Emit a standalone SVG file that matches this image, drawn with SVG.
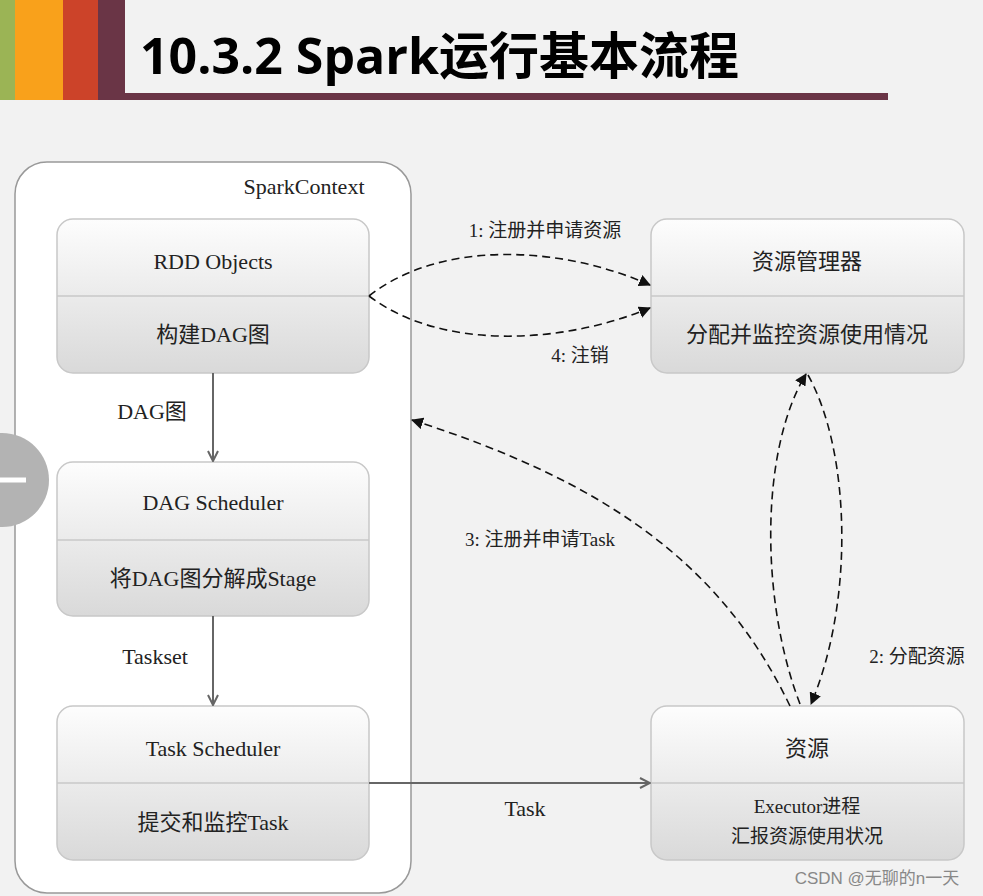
<svg xmlns="http://www.w3.org/2000/svg" width="983" height="896" viewBox="0 0 983 896">
<style>
.t{font-family:"Liberation Serif","Noto Sans CJK SC",serif;font-size:22px;fill:#222;text-anchor:middle}
.s{font-size:19px}
.box{fill:url(#g);stroke:#c8c8c8;stroke-width:1.5}
.div{stroke:#c8c8c8;stroke-width:1.5}
.ln{fill:none;stroke:#666;stroke-width:2}
.da{fill:none;stroke:#111;stroke-width:1.6;stroke-dasharray:8 5}
</style>
<defs>
<linearGradient id="g" x1="0" y1="0" x2="0" y2="1"><stop offset="0" stop-color="#fdfdfd"/><stop offset="1" stop-color="#d9d9d9"/></linearGradient>
<marker id="a" viewBox="0 0 12 12" refX="11" refY="6" markerWidth="12" markerHeight="12" markerUnits="userSpaceOnUse" orient="auto"><path d="M1,1 L11,6 L1,11" fill="none" stroke="#666" stroke-width="2"/></marker>
<marker id="b" viewBox="0 0 12 12" refX="11" refY="6" markerWidth="12" markerHeight="12" markerUnits="userSpaceOnUse" orient="auto"><path d="M0,0 L12,6 L0,12 Z" fill="#111"/></marker>
</defs>
<rect width="983" height="896" fill="#f2f2f2"/>
<g id="header">
<rect x="0" y="0" width="15" height="100" fill="#9bb455"/>
<rect x="15" y="0" width="48" height="100" fill="#f9a11b"/>
<rect x="63" y="0" width="35" height="100" fill="#cc4329"/>
<rect x="98" y="0" width="27" height="100" fill="#6a3546"/>
<rect x="125" y="93" width="763" height="7" fill="#6a3546"/>
<text x="140" y="74" font-family="'Open Sans','Noto Sans CJK SC',sans-serif" font-weight="bold" font-size="50" fill="#000">10.3.2 Spark运行基本流程</text>
</g>
<g id="SparkContext">
<rect x="15" y="162" width="396" height="731" rx="32" fill="#fff" stroke="#999" stroke-width="1.5"/>
<text class="t" x="304" y="194">SparkContext</text>
</g>
<g id="rdd"><rect class="box" x="57" y="219" width="312" height="154" rx="16"/><line class="div" x1="57" y1="296" x2="369" y2="296"/>
<text class="t" x="213" y="269">RDD Objects</text><text class="t" x="213" y="342">构建DAG图</text></g>
<g id="dag"><rect class="box" x="57" y="462" width="312" height="154" rx="16"/><line class="div" x1="57" y1="540" x2="369" y2="540"/>
<text class="t" x="213" y="510">DAG Scheduler</text><text class="t" x="213" y="586">将DAG图分解成Stage</text></g>
<g id="task"><rect class="box" x="57" y="706" width="312" height="154" rx="16"/><line class="div" x1="57" y1="783" x2="369" y2="783"/>
<text class="t" x="213" y="756">Task Scheduler</text><text class="t" x="213" y="830">提交和监控Task</text></g>
<g id="rm"><rect class="box" x="651" y="219" width="313" height="154" rx="16"/><line class="div" x1="651" y1="296" x2="964" y2="296"/>
<text class="t" x="807" y="269">资源管理器</text><text class="t" x="807" y="342">分配并监控资源使用情况</text></g>
<g id="res"><rect class="box" x="651" y="706" width="313" height="154" rx="16"/><line class="div" x1="651" y1="783" x2="964" y2="783"/>
<text class="t" x="807" y="756">资源</text><text class="t s" x="807" y="813">Executor进程</text><text class="t s" x="807" y="843">汇报资源使用状况</text></g>
<g id="connectors">
<line class="ln" x1="213" y1="373" x2="213" y2="461" marker-end="url(#a)"/>
<line class="ln" x1="213" y1="616" x2="213" y2="705" marker-end="url(#a)"/>
<line class="ln" x1="369" y1="783" x2="650" y2="783" marker-end="url(#a)"/>
<path class="da" d="M369,296 C440,240 560,245 650,285" marker-end="url(#b)"/>
<path class="da" d="M369,296 C440,350 560,345 650,308" marker-end="url(#b)"/>
<path class="da" d="M790,706 C720,560 600,480 412,420" marker-end="url(#b)"/>
<path class="da" d="M800,704 C760,600 760,450 806,374" marker-end="url(#b)"/>
<path class="da" d="M808,375 C850,450 855,600 811,704" marker-end="url(#b)"/>
<text class="t s" x="545" y="237">1: 注册并申请资源</text>
<text class="t s" x="580" y="362">4: 注销</text>
<text class="t s" x="540" y="546">3: 注册并申请Task</text>
<text class="t s" x="917" y="663">2: 分配资源</text>
<text class="t" x="525" y="816">Task</text>
<text class="t" x="152" y="419">DAG图</text>
<text class="t" x="155" y="664">Taskset</text>
</g>
<g id="overlay">
<circle cx="2" cy="480" r="47" fill="#b3b3b3"/>
<line x1="0" y1="480" x2="26" y2="480" stroke="#fff" stroke-width="5"/>
<text x="877" y="884" font-family="'Liberation Sans','Noto Sans CJK SC',sans-serif" font-size="17" fill="#888" text-anchor="middle">CSDN @无聊的n一天</text>
</g>
</svg>
